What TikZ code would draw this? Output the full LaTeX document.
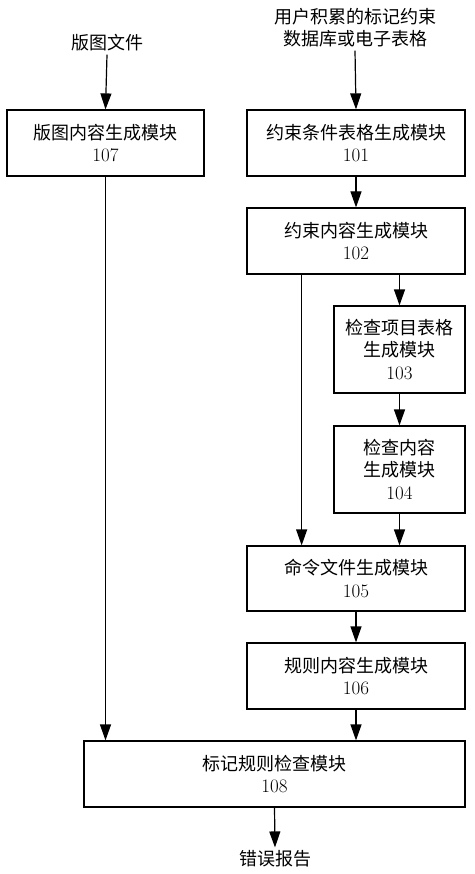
\documentclass[tikz,border=0pt]{standalone}
\usepackage{fontspec}
\usepackage{tikz}
\usetikzlibrary{positioning,arrows.meta,calc}
\newfontfamily\cjk{Noto Sans CJK SC}

\tikzset{
  modbox/.style={draw=black, line width=1.2pt, align=center, inner sep=2pt,
    font=\fontsize{19}{22.5}\selectfont},
  iotext/.style={align=center, inner sep=3pt, font=\fontsize{18}{22}\selectfont\cjk},
  flow/.style={-{Triangle[length=16pt,width=11pt]}, line width=1.2pt}
}

\begin{document}
\begin{tikzpicture}[x=1pt,y=-1pt]
\useasboundingbox (0,0) rectangle (474,874);

% Inputs
\node[iotext] (layout) at (107,43) {版图文件};
\node[iotext] (userdb) at (355,28) {用户积累的标记约束\\数据库或电子表格};

% Left column
\node[modbox, minimum width=197pt, minimum height=66pt] (m107) at (105.5,143) {{\cjk\fontsize{18}{22.5}\selectfont 版图内容生成模块}\\107};

% Right column
\node[modbox, minimum width=218pt, minimum height=66pt] (m101) at (356,143) {{\cjk\fontsize{18}{22.5}\selectfont 约束条件表格生成模块}\\101};
\node[modbox, minimum width=218pt, minimum height=66pt] (m102) at (356,241) {{\cjk\fontsize{18}{22.5}\selectfont 约束内容生成模块}\\102};
\node[modbox, minimum width=131pt, minimum height=87pt] (m103) at (399.5,349.5) {{\cjk\fontsize{18}{22.5}\selectfont 检查项目表格}\\{\cjk\fontsize{18}{22.5}\selectfont 生成模块}\\103};
\node[modbox, minimum width=131pt, minimum height=87pt] (m104) at (399.5,469.5) {{\cjk\fontsize{18}{22.5}\selectfont 检查内容}\\{\cjk\fontsize{18}{22.5}\selectfont 生成模块}\\104};
\node[modbox, minimum width=218pt, minimum height=65pt] (m105) at (356,578.5) {{\cjk\fontsize{18}{22.5}\selectfont 命令文件生成模块}\\105};
\node[modbox, minimum width=218pt, minimum height=66pt] (m106) at (356,676) {{\cjk\fontsize{18}{22.5}\selectfont 规则内容生成模块}\\106};

% Checker and output
\node[modbox, minimum width=381pt, minimum height=66pt] (m108) at (274.5,774) {{\cjk\fontsize{18}{22.5}\selectfont 标记规则检查模块}\\108};
\node[iotext] (report) at (275,859) {错误报告};

% Connectors
\draw[flow] (layout.south) -- (m107.north);
\draw[flow] (userdb.south) -- (m101.north);
\draw[flow] (m101) -- (m102);
\draw[flow] (m103.north |- m102.south) -- (m103.north);
\draw[flow] (m103) -- (m104);
\coordinate (split) at ($(m102.south west)!0.252!(m102.south east)$);
\draw[flow] (split) -- (split |- m105.north);
\draw[flow] (m104.south) -- (m104.south |- m105.north);
\draw[flow] (m105) -- (m106);
\draw[flow] (m107.south) -- (m107.south |- m108.north);
\draw[flow] (m106.south) -- (m106.south |- m108.north);
\draw[flow] (m108.south) -- (report.north);
\end{tikzpicture}
\end{document}
